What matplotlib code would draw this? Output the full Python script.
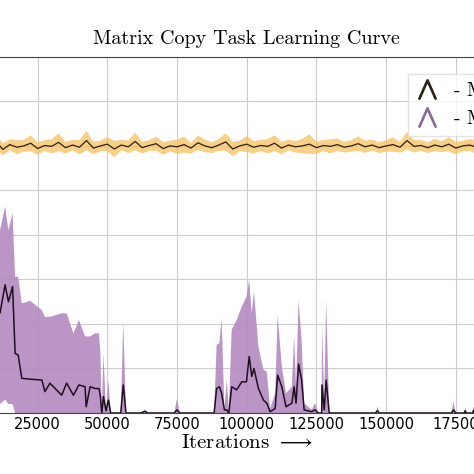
import matplotlib
matplotlib.use("Agg")
import matplotlib.pyplot as plt
from matplotlib.lines import Line2D
import numpy as np

# Orange series (every 2500 iterations)
o_x = list(range(0, 202500, 2500))
o_mean = [6.02,5.95,6.05,5.98,6.1,5.92,6.03,5.97,6.0,6.06,5.94,6.01,5.99,6.08,5.96,6.02,
          5.97,6.12,5.95,6.0,6.04,5.93,6.02,5.98,6.1,5.96,6.01,6.05,5.94,6.0,5.98,6.03,
          5.95,6.07,6.0,5.96,6.02,6.09,5.93,6.0,6.04,5.97,6.01,5.99,6.06,5.95,6.02,5.98,
          6.0,6.04,5.96,6.01,5.99,6.03,5.97,6.0,6.05,5.98,6.02,5.96,6.0,6.03,5.97,6.12,
          5.99,6.01,5.96,6.02,5.98,6.04,5.95,6.0,6.02,5.97,6.01,6.03,5.98,6.0,6.02,5.99,6.0]
o_spread = [0.12,0.16,0.2,0.12,0.16,0.14,0.12,0.16,0.13,0.18,0.14,0.12,0.16,0.2,0.13,0.12,
            0.16,0.22,0.14,0.12,0.16,0.18,0.12,0.14,0.2,0.13,0.12,0.16,0.14,0.12,0.16,0.18,
            0.12,0.16,0.14,0.12,0.13,0.2,0.16,0.12,0.18,0.14,0.12,0.16,0.18,0.14,0.12,0.13,
            0.16,0.22,0.14,0.12,0.16,0.14,0.12,0.13,0.16,0.14,0.12,0.12,0.13,0.16,0.12,0.2,
            0.14,0.12,0.12,0.14,0.12,0.16,0.14,0.12,0.13,0.16,0.12,0.14,0.12,0.13,0.12,0.12,0.12]

# Purple series
p_x = [0,5000,10000,11500,13300,14500,16000,16900,18000,19300,22300,26500,27600,29400,33600,
       35400,37800,39800,42000,42400,43800,45600,47000,47500,48000,48600,49500,50400,51200,
       54800,55700,56700,62000,63500,64500,74000,75000,76000,88300,89200,90200,91000,92000,
       92800,93600,94600,96400,98200,99900,100900,101800,102600,104200,106000,107200,108400,
       110200,111100,112600,114100,116200,117000,117700,118600,119700,120600,123300,124500,
       125700,126900,127000,127800,128500,129600,146200,146900,147600,173400,174200,175000,
       178000,178400,178800,181000,181400,181800,200000]
p_mean = [2.6,2.4,2.3,2.25,2.88,2.5,2.84,1.34,1.3,0.78,0.76,0.74,0.48,0.67,0.40,
          0.67,0.40,0.63,0.59,0.14,0.59,0.55,0.55,0.37,0.0,0.37,0.05,0.29,0.0,
          0.0,0.63,0.0,0.0,0.04,0.0,0.0,0.07,0.0,0.0,0.55,0.59,0.44,0.07,
          0.07,0.0,0.59,0.52,0.70,0.70,1.27,0.82,1.0,0.55,0.29,0.22,0.03,
          0.10,0.85,0.59,0.14,0.22,0.59,0.22,1.10,0.74,0.07,0.03,0.07,
          0.0,0.0,0.63,0.07,0.74,0.0,0.0,0.05,0.0,0.0,0.07,0.0,
          0.0,0.05,0.0,0.0,0.06,0.0,0.0]
p_upper = [4.2,4.4,4.1,4.11,4.64,4.11,4.49,3.06,3.06,2.46,2.52,2.31,2.16,2.16,2.24,
           2.24,1.79,2.09,1.72,1.72,1.72,1.79,1.79,1.34,0.07,1.34,0.07,0.74,0.0,
           0.0,2.05,0.0,0.0,0.06,0.0,0.0,0.33,0.0,0.0,1.53,1.57,2.13,0.07,
           0.75,0.07,1.87,2.09,2.39,2.61,2.99,2.24,2.73,1.49,0.97,0.93,0.10,
           0.44,2.20,1.04,0.44,0.59,1.75,0.59,2.54,1.64,0.22,0.07,0.22,
           0.0,0.0,2.05,0.29,2.54,0.0,0.0,0.14,0.0,0.0,0.25,0.0,
           0.0,0.12,0.0,0.0,0.15,0.0,0.0]
p_lower = [0.5,0.4,0.3,0.2,0.3,0.2,0.2] + [0.0] * 80

x_ticks = [25000, 50000, 75000, 100000, 125000, 150000, 175000]
x_ticklabels = ["25000", "50000", "75000", "100000", "125000", "150000", "17500"]

plt.rcParams['mathtext.fontset'] = 'cm'
fig = plt.figure(figsize=(4.74, 4.74), dpi=100)
ax = fig.add_axes([-0.0675, 0.1287, 1.176, 0.7513])

om = np.array(o_mean); osp = np.array(o_spread)
ax.fill_between(o_x, om - osp, om + osp, color='#f6c160', alpha=0.75, lw=0)
ax.plot(o_x, o_mean, color='#2b2014', lw=0.9)
ax.fill_between(p_x, p_lower, p_upper, color='#b48ac0', alpha=0.9, lw=0)
ax.plot(p_x, p_mean, color='#1e1020', lw=1.1)

ax.set_xlim(0, 200000)
ax.set_ylim(0, 8)
ax.set_yticks(range(0, 9))
ax.set_yticklabels([])
ax.set_xticks(x_ticks)
ax.set_xticklabels(x_ticklabels, fontsize=10.5)
ax.tick_params(length=0, pad=3)
ax.grid(True, color='#cccccc', lw=0.8)
ax.set_axisbelow(True)
for s in ax.spines.values():
    s.set_color('#444444')

ax.set_title("Matrix Copy Task Learning Curve", family='cmr10', fontsize=14.5, pad=9)
ax.set_xlabel(r"Iterations $\longrightarrow$", family='cmr10', fontsize=15, labelpad=1)

h1 = Line2D([], [], color='#2b2014', marker=r'$\wedge$', markersize=14, lw=0,
            markeredgecolor='#2b2014', markerfacecolor='#f6c160')
h2 = Line2D([], [], color='#8a6a96', marker=r'$\wedge$', markersize=14, lw=0)
leg = ax.legend([h1, h2], ["- Matrix NTM", "- Matrix LSTM"], loc='upper left',
                bbox_to_anchor=(0.771, 0.978), prop={'family': 'cmr10', 'size': 14},
                frameon=True, fancybox=False, edgecolor='#dddddd', handlelength=1.2)
fig.savefig("out.png", dpi=100)
